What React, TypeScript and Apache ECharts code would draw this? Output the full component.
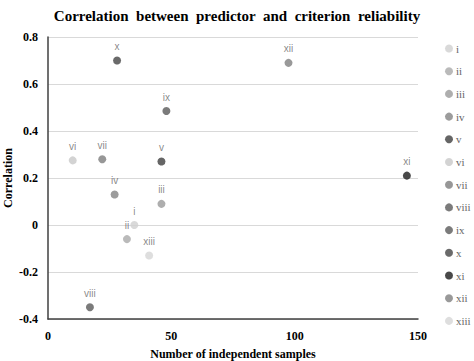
import React, { useEffect, useRef } from "react";
import * as echarts from "echarts";

const names = ["i", "ii", "iii", "iv", "v", "vi", "vii", "viii", "ix", "x", "xi", "xii", "xiii"];
const samples = [35, 32, 46, 27, 46, 10, 22, 17, 48, 28, 145.5, 97.5, 41];
const correlations = [0.0, -0.06, 0.09, 0.13, 0.27, 0.275, 0.28, -0.35, 0.485, 0.7, 0.21, 0.69, -0.13];
const colors = ["#cfcfcf", "#a9a9a9", "#9a9a9a", "#838383", "#3f3f3f", "#c8c8c8", "#7d7d7d", "#5a5a5a", "#5a5a5a", "#454545", "#1c1c1c", "#808080", "#d6d6d6"];
const xTicks = { min: 0, max: 150, interval: 50 };
const yTicks = { min: -0.4, max: 0.8, interval: 0.2 };

export default function App() {
  const ref = useRef<HTMLDivElement>(null);
  useEffect(() => {
    document.body.style.margin = "0";
    const chart = echarts.init(ref.current!, null, { renderer: "svg" });
    const serif = "Liberation Serif";
    chart.setOption({
      animation: false,
      backgroundColor: "#ffffff",
      title: {
        text: "Correlation  between  predictor  and  criterion  reliability",
        left: "center",
        top: 3,
        textStyle: { fontFamily: serif, fontSize: 15, fontWeight: "bold", color: "#000" },
      },
      grid: { left: 48, right: 56, top: 37, bottom: 42, outerBoundsMode: "none", containLabel: false },
      legend: {
        orient: "vertical",
        left: 445,
        top: 43,
        icon: "circle",
        itemWidth: 8,
        itemHeight: 8,
        itemGap: 11.7,
        padding: 0,
        textStyle: { fontFamily: serif, fontSize: 11, color: "#666", padding: [0, 0, 0, -2] },
        data: names,
      },
      xAxis: {
        type: "value",
        min: xTicks.min,
        max: xTicks.max,
        interval: xTicks.interval,
        name: "Number of independent samples",
        nameLocation: "middle",
        nameGap: 29,
        nameMoveOverlap: false,
        nameTextStyle: { fontFamily: serif, fontSize: 12, fontWeight: "bold", color: "#000" },
        axisLine: { onZero: false, lineStyle: { color: "#404040", width: 1.5 } },
        axisTick: { show: false },
        splitLine: { show: false },
        axisLabel: { fontFamily: serif, fontSize: 12, fontWeight: "bold", color: "#000", margin: 11 },
      },
      yAxis: {
        type: "value",
        min: yTicks.min,
        max: yTicks.max,
        interval: yTicks.interval,
        name: "Correlation",
        nameLocation: "middle",
        nameGap: 34,
        nameMoveOverlap: false,
        nameTextStyle: { fontFamily: serif, fontSize: 12, fontWeight: "bold", color: "#000" },
        axisLine: { show: true, onZero: false, lineStyle: { color: "#404040", width: 1.5 } },
        axisTick: { show: false },
        splitLine: { lineStyle: { color: "#d9d9d9", width: 1 } },
        axisLabel: { fontFamily: serif, fontSize: 12, fontWeight: "bold", color: "#000", margin: 10 },
      },
      series: names.map((n, i) => ({
        name: n,
        type: "scatter",
        symbolSize: 8,
        itemStyle: { color: colors[i] },
        label: {
          show: true,
          position: "top",
          distance: 5,
          formatter: n,
          fontFamily: "Liberation Sans",
          fontSize: 10,
          color: "#6a6a6a",
        },
        data: [[samples[i], correlations[i]]],
      })),
    });
    return () => chart.dispose();
  }, []);
  return <div ref={ref} style={{ width: 474, height: 361 }} />;
}
